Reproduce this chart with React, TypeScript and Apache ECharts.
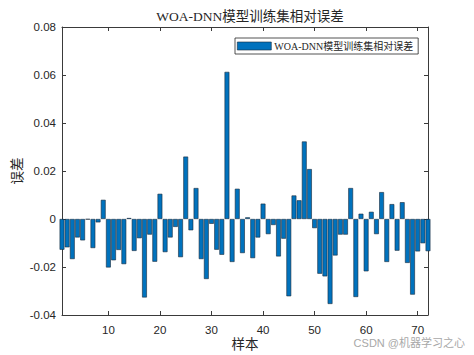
import React, { useEffect, useRef } from "react";
import * as echarts from "echarts";

const chartTitle = "WOA-DNN模型训练集相对误差";
const seriesName = "WOA-DNN模型训练集相对误差";
const xAxisName = "样本";
const yAxisName = "误差";
const watermark = "CSDN @机器学习之心";

const relativeError = [
  -0.0128, -0.0118, -0.0167, -0.0077, -0.0089, -0.0002, -0.0121, -0.0014, 0.008, -0.0202,
  -0.0172, -0.0129, -0.0188, 0.0004, -0.0133, -0.008, -0.0327, -0.0065, -0.0178, 0.0105,
  -0.0138, -0.0077, -0.0033, -0.0159, 0.026, -0.0047, 0.0129, -0.0167, -0.025, -0.002,
  -0.0128, -0.0149, 0.0613, -0.0179, 0.0126, -0.0142, 0.0007, -0.0163, -0.0077, 0.0064,
  -0.0063, -0.0025, -0.0156, -0.0082, -0.0322, 0.0098, 0.0078, 0.0323, 0.0208, -0.0038,
  -0.0228, -0.0239, -0.0354, -0.0152, -0.0065, -0.0065, 0.0129, -0.0325, 0.0022, -0.0218,
  0.003, -0.0063, 0.0112, -0.0179, 0.0062, -0.0132, 0.007, -0.0183, -0.0315, -0.0135,
  -0.0101, -0.0134,
];

const xTicks = [10, 20, 30, 40, 50, 60, 70];
const xMin = 1;
const xMax = 72;
const yMin = -0.04;
const yMax = 0.08;
const yStep = 0.02;

const serif = "'Liberation Serif', 'Times New Roman', 'Noto Sans CJK SC', serif";
const sans = "'Liberation Sans', Arial, 'Noto Sans CJK SC', sans-serif";
const axisColor = "#3a3a3a";

export default function App() {
  const ref = useRef<HTMLDivElement>(null);

  useEffect(() => {
    if (!ref.current) return;
    const chart = echarts.init(ref.current, undefined, { renderer: "svg" });
    const data = relativeError.map((v, i) => [i + 1, v]);

    const baseX = {
      type: "value" as const,
      min: xMin,
      max: xMax,
      axisLine: { show: true, onZero: false, lineStyle: { color: axisColor, width: 1 } },
      axisTick: { show: true, inside: true, length: 4, customValues: xTicks, lineStyle: { color: axisColor } },
      splitLine: { show: false },
    };
    const baseY = {
      type: "value" as const,
      min: yMin,
      max: yMax,
      interval: yStep,
      axisLine: { show: true, onZero: false, lineStyle: { color: axisColor, width: 1 } },
      axisTick: { show: true, inside: true, length: 4, lineStyle: { color: axisColor } },
      splitLine: { show: false },
    };

    chart.setOption({
      animation: false,
      backgroundColor: "#ffffff",
      title: {
        text: chartTitle,
        left: 245,
        top: 5,
        textAlign: "center",
        textStyle: { fontFamily: serif, fontSize: 13.5, fontWeight: "normal", color: "#262626" },
      },
      legend: {
        data: [{ name: seriesName, icon: "rect" }],
        left: 235,
        top: 38,
        padding: [3, 5, 3, 2],
        itemWidth: 34,
        itemHeight: 8,
        backgroundColor: "#ffffff",
        borderColor: "#262626",
        borderWidth: 0.8,
        borderRadius: 0,
        itemStyle: { borderWidth: 0.6, borderColor: "#1a2a3a" },
        textStyle: { fontFamily: serif, fontSize: 10, color: "#262626", padding: [0, 0, 0, -2] },
      },
      grid: { left: 62, right: 46, top: 27, bottom: 40, containLabel: false, outerBoundsMode: "none" },
      xAxis: [
        {
          ...baseX,
          position: "bottom",
          name: xAxisName,
          nameLocation: "middle",
          nameGap: 23,
          nameMoveOverlap: false,
          nameTextStyle: { fontFamily: serif, fontSize: 13.5, color: "#262626" },
          axisLabel: {
            show: true,
            customValues: xTicks,
            margin: 9,
            fontFamily: sans,
            fontSize: 11.5,
            color: "#262626",
          },
        },
        {
          ...baseX,
          position: "top",
          axisLabel: { show: false },
        },
      ],
      yAxis: [
        {
          ...baseY,
          position: "left",
          name: yAxisName,
          nameLocation: "middle",
          nameGap: 38,
          nameMoveOverlap: false,
          nameRotate: 90,
          nameTextStyle: { fontFamily: serif, fontSize: 13.5, color: "#262626" },
          axisLabel: {
            show: true,
            margin: 6,
            fontFamily: sans,
            fontSize: 11.5,
            color: "#262626",
            formatter: (v: number) => {
              const r = Math.round(v * 100) / 100;
              return r === 0 ? "0" : String(r);
            },
          },
        },
        {
          ...baseY,
          position: "right",
          axisLabel: { show: false },
        },
      ],
      series: [
        {
          name: seriesName,
          type: "bar",
          data,
          xAxisIndex: 0,
          yAxisIndex: 0,
          barWidth: 4.8,
          clip: true,
          itemStyle: { color: "#0072BD", borderColor: "#1a2a3a", borderWidth: 0.6 },
        },
      ],
      graphic: [
        {
          type: "text",
          right: 9,
          top: 337,
          style: {
            text: watermark,
            fontFamily: sans,
            fontSize: 11,
            fill: "#a8a8a8",
          },
        },
      ],
    });

    return () => chart.dispose();
  }, []);

  return (
    <div
      ref={ref}
      style={{ position: "fixed", left: 0, top: 0, width: 474, height: 355, background: "#fff" }}
    />
  );
}
